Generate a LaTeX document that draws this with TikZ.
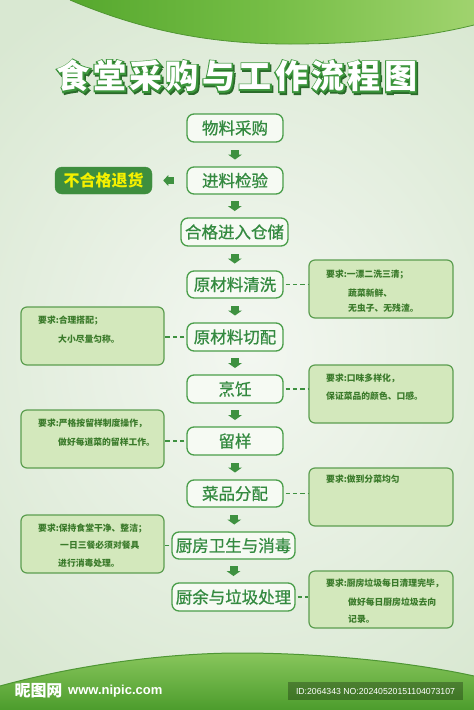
\documentclass[tikz,border=0pt]{standalone}
\usepackage{fontspec}
\newfontfamily\cjk{Noto Sans CJK SC}
\newfontfamily\cjkmed[FakeBold=0.8]{Noto Sans CJK SC}
\newfontfamily\cjkol[FakeBold=8]{Noto Sans CJK SC}
\newfontfamily\lat{Liberation Sans}
\usetikzlibrary{calc}
\definecolor{gtext}{HTML}{348A40}
\definecolor{gborder}{HTML}{4A9E4A}
\definecolor{arrowc}{HTML}{3E9140}
\definecolor{mainfill}{HTML}{F6FAF3}
\definecolor{notefill}{HTML}{D3E8BC}
\definecolor{noteborder}{HTML}{5C9E50}
\definecolor{notetext}{HTML}{3A7A2A}
\definecolor{rejectfill}{HTML}{3E8E3E}
\definecolor{rejecttext}{HTML}{F4F000}
\definecolor{bgedge}{HTML}{D9E8D2}
\definecolor{bgmid}{HTML}{F3F7F1}
\definecolor{titleborder}{HTML}{3C963C}
\definecolor{titleshadow}{HTML}{2A6A2A}
\definecolor{topleft}{RGB}{86,168,46}
\definecolor{topmid}{RGB}{118,190,70}
\definecolor{topright}{RGB}{160,211,110}
\definecolor{topline}{RGB}{80,150,50}
\definecolor{hilltop}{RGB}{136,198,92}
\definecolor{hillbot}{RGB}{76,156,44}
\definecolor{hillline}{RGB}{78,150,52}
\newcommand{\ttltext}{食\hspace{3.4pt}堂\hspace{3.4pt}采\hspace{3.4pt}购\hspace{3.4pt}与\hspace{3.4pt}工\hspace{3.4pt}作\hspace{3.4pt}流\hspace{3.4pt}程\hspace{3.4pt}图}
\begin{document}
\begin{tikzpicture}[x=1pt,y=-1pt,
 mainbox/.style={draw=gborder, line width=1.3pt, rounded corners=7pt, fill=mainfill,
   minimum width=96pt, minimum height=28pt, inner sep=0pt, text=gtext,
   font=\cjkmed\fontsize{16.5}{16.5}\selectfont},
 notebox/.style={draw=noteborder, line width=1.2pt, rounded corners=6pt, fill=notefill,
   minimum width=144pt, minimum height=58pt, inner sep=0pt},
 notetxt/.style={anchor=west, inner sep=0pt, text=notetext,
   font=\cjk\bfseries\fontsize{8.8}{8.8}\selectfont},
 link/.style={draw=arrowc, line width=1.6pt, dash pattern=on 4.5pt off 2.8pt, dash phase=-2pt},
 darr/.pic={\fill[arrowc] (-4,-5) rectangle (4,0); \fill[arrowc] (-7,0) -- (7,0) -- (0,5) -- cycle;},
 larr/.pic={\fill[arrowc] (-1,-3.5) rectangle (5,3.5); \fill[arrowc] (-1,-5.5) -- (-1,5.5) -- (-6,0) -- cycle;}
]
\useasboundingbox (0,0) rectangle (474,710);
% background
\fill[bgedge] (0,0) rectangle (474,710);
\shade[inner color=bgmid, outer color=bgedge] (-120,-60) rectangle (620,760);
% top green
\shade[left color=topleft, right color=topright, middle color=topmid]
  (70,0) .. controls (150,34) and (220,44) .. (290,44) .. controls (370,44) and (430,36) .. (474,25) -- (474,0) -- cycle;
\draw[line width=0.8pt, topline] (70,0) .. controls (150,34) and (220,44) .. (290,44) .. controls (370,44) and (430,36) .. (474,25);
% bottom hill
\shade[top color=hilltop, bottom color=hillbot]
  (0,686) .. controls (80,664) and (170,653) .. (240,653) .. controls (330,653) and (420,664) .. (474,676) -- (474,710) -- (0,710) -- cycle;
\draw[line width=1pt, hillline] (0,686) .. controls (80,664) and (170,653) .. (240,653) .. controls (330,653) and (420,664) .. (474,676);
% watermark
\node[inner sep=0pt, text=white, font=\cjk\bfseries\fontsize{16}{16}\selectfont] (wm1) at (38.5,691) {昵图网};
\node[inner sep=0pt, anchor=west, text=white, font=\lat\bfseries\fontsize{13}{13}\selectfont] (wm2) at (68,691) {www.nipic.com};
\fill[black, opacity=0.28] (288,682) rectangle (463,700);
\node[inner sep=0pt, text=white, font=\lat\fontsize{8.7}{8.7}\selectfont] (wm3) at (375.5,691) {ID:2064343 NO:20240520151104073107};
% title: shadow, outline, white face
\node[inner sep=0pt, text=titleshadow, font=\cjkol\bfseries\fontsize{33}{33}\selectfont] (titlesh) at (238.5,77.8) {\ttltext};
\node[inner sep=0pt, text=titleborder, font=\cjkol\bfseries\fontsize{33}{33}\selectfont] (titleol) at (237,76) {\ttltext};
\node[inner sep=0pt, text=white, font=\cjk\bfseries\fontsize{33}{33}\selectfont] (title) at (237,76) {\ttltext};
% main boxes
\node[mainbox] (p1) at (235,128) {物料采购};
\node[mainbox, minimum height=27pt] (p2) at (235,180.5) {进料检验};
\node[draw=rejectfill, fill=rejectfill, rounded corners=7pt, minimum width=97pt, minimum height=27pt, inner sep=0pt, text=rejecttext, font=\cjk\bfseries\fontsize{16}{16}\selectfont] (r) at (103.5,180.5) {不合格退货};
\node[mainbox, minimum width=107pt] (p3) at (234.5,232) {合格进入仓储};
\node[mainbox, minimum height=27pt] (p4) at (235,284.5) {原材料清洗};
\node[mainbox] (p5) at (235,337) {原材料切配};
\node[mainbox] (p6) at (235,389) {烹饪};
\node[mainbox] (p7) at (235,441) {留样};
\node[mainbox, minimum height=27pt] (p8) at (235,493.5) {菜品分配};
\node[mainbox, minimum width=123pt, minimum height=27pt] (p9) at (233.5,545.5) {厨房卫生与消毒};
\node[mainbox, minimum width=123pt] (p10) at (233.5,597) {厨余与垃圾处理};
% arrows
\foreach \u/\v in {p1/p2,p2/p3,p3/p4,p4/p5,p5/p6,p6/p7,p7/p8,p8/p9,p9/p10} {
  \path ($(\u.south)!0.5!(\v.north)$) pic {darr};
}
\path ($(r.east)!0.5!(p2.west)$) pic {larr};
% note boxes
\node[notebox] (n1) at (381,289) {};
\node[notebox, minimum width=143pt] (n2) at (92.5,336) {};
\node[notebox] (n3) at (381,394) {};
\node[notebox, minimum width=143pt] (n4) at (92.5,439) {};
\node[notebox] (n5) at (381,497) {};
\node[notebox, minimum width=143pt] (n6) at (92.5,544) {};
\node[notebox, minimum height=57pt] (n7) at (381,599.5) {};
% note texts
\node[notetxt] (n1a) at (326,275) {要求:一漂二洗三清；};
\node[notetxt] (n1b) at (348,293) {蔬菜新鲜、};
\node[notetxt] (n1c) at (348,308) {无虫子、无残渣。};
\node[notetxt] (n2a) at (38,321) {要求:合理搭配；};
\node[notetxt] (n2b) at (58,339) {大小尽量匀称。};
\node[notetxt] (n3a) at (326,378) {要求:口味多样化，};
\node[notetxt] (n3b) at (326,396) {保证菜品的颜色、口感。};
\node[notetxt] (n4a) at (38,423) {要求:严格按留样制度操作，};
\node[notetxt] (n4b) at (58,442) {做好每道菜的留样工作。};
\node[notetxt] (n5a) at (326,479) {要求:做到分菜均匀};
\node[notetxt] (n6a) at (38,528) {要求:保持食堂干净、整洁；};
\node[notetxt] (n6b) at (60,545) {一日三餐必须对餐具};
\node[notetxt] (n6c) at (58,563) {进行消毒处理。};
\node[notetxt] (n7a) at (326,583) {要求:厨房垃圾每日清理完毕，};
\node[notetxt] (n7b) at (348,602) {做好每日厨房垃圾去向};
\node[notetxt] (n7c) at (348,619) {记录。};
% dashed links
\draw[link] (p4.east) -- (p4.east -| n1.west);
\draw[link] (p5.west) -- (p5.west -| n2.east);
\draw[link] (p6.east) -- (p6.east -| n3.west);
\draw[link] (p7.west) -- (p7.west -| n4.east);
\draw[link] (p8.east) -- (p8.east -| n5.west);
\draw[link] (p9.west) -- (p9.west -| n6.east);
\draw[link] (p10.east) -- (p10.east -| n7.west);
\end{tikzpicture}
\end{document}
